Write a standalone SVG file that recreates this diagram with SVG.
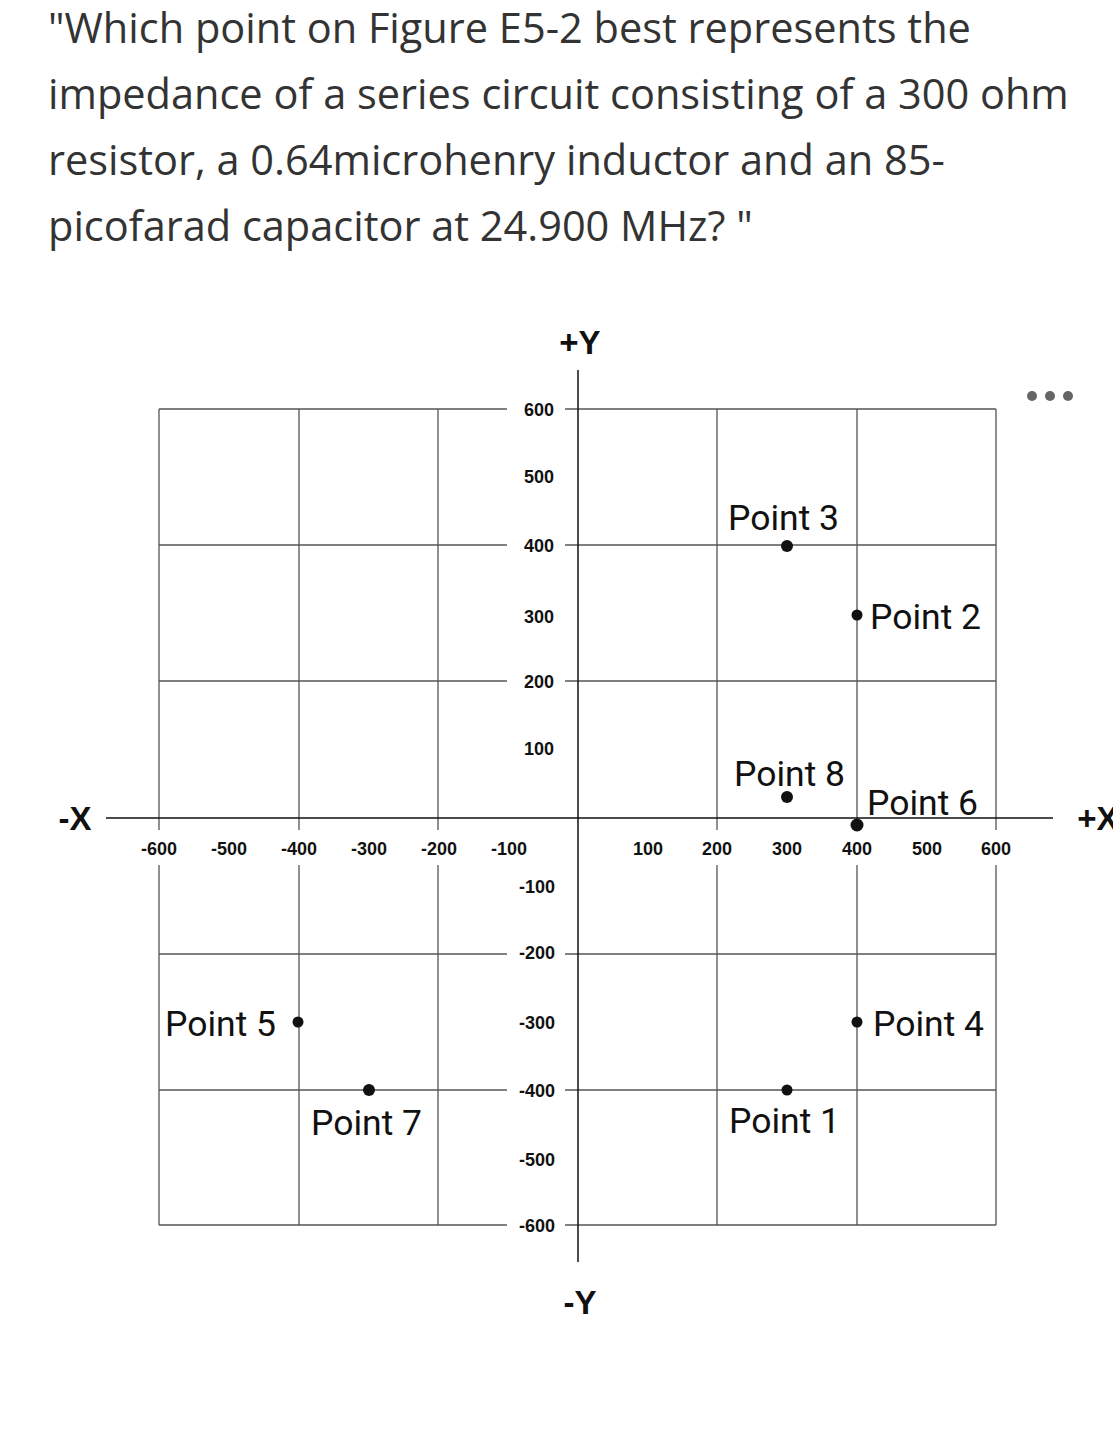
<svg xmlns="http://www.w3.org/2000/svg" width="1113" height="1444" viewBox="0 0 1113 1444">
<style>
.q{font-family:"Open Sans",sans-serif;font-size:41.5px;fill:#333}
.t{font-family:"Liberation Sans",Arial,sans-serif;font-size:18px;font-weight:bold;fill:#111;text-anchor:middle}
.ax{font-family:"Liberation Sans",Arial,sans-serif;font-size:33px;font-weight:bold;fill:#111;text-anchor:middle}
.p{font-family:"Roboto","Liberation Sans",sans-serif;font-size:35.5px;fill:#111}
.g{stroke:#555;stroke-width:1.3;fill:none}
.a{stroke:#111;stroke-width:1.5}
</style>
<rect width="1113" height="1444" fill="#fff"/>
<g id="question">
<text class="q" x="48" y="43">"Which point on Figure E5-2 best represents the</text>
<text class="q" x="48" y="109">impedance of a series circuit consisting of a 300 ohm</text>
<text class="q" x="48" y="175">resistor, a 0.64microhenry inductor and an 85-</text>
<text class="q" x="48" y="241">picofarad capacitor at 24.900 MHz? "</text>
</g>
<g id="menu" fill="#666"><circle cx="1032" cy="396" r="5"/><circle cx="1050" cy="396" r="5"/><circle cx="1068" cy="396" r="5"/></g>
<g id="grid" class="g">
<path d="M159 409H507M565 409H996M159 545H507M565 545H996M159 681H507M565 681H996M159 954H507M565 954H996M159 1090H507M565 1090H996M159 1225H507M565 1225H996"/>
<path d="M159 409V830M159 865V1225M299 409V830M299 865V1225M438 409V830M438 865V1225M717 409V830M717 865V1225M857 409V830M857 865V1225M996 409V830M996 865V1225"/>
</g>
<g id="axes" class="a">
<line x1="106" y1="818" x2="1053" y2="818"/>
<line x1="578" y1="370" x2="578" y2="1262"/>
</g>
<g id="labels">
<text class="ax" x="580" y="354">+Y</text>
<text class="ax" x="580" y="1314">-Y</text>
<text class="ax" x="75" y="830">-X</text>
<text class="ax" x="1098" y="830">+X</text>
<text class="t" x="539" y="416">600</text><text class="t" x="539" y="483">500</text><text class="t" x="539" y="552">400</text><text class="t" x="539" y="623">300</text><text class="t" x="539" y="688">200</text><text class="t" x="539" y="755">100</text>
<text class="t" x="537" y="893">-100</text><text class="t" x="537" y="959">-200</text><text class="t" x="537" y="1029">-300</text><text class="t" x="537" y="1097">-400</text><text class="t" x="537" y="1166">-500</text><text class="t" x="537" y="1232">-600</text>
<text class="t" x="159" y="855">-600</text><text class="t" x="229" y="855">-500</text><text class="t" x="299" y="855">-400</text><text class="t" x="369" y="855">-300</text><text class="t" x="439" y="855">-200</text><text class="t" x="509" y="855">-100</text>
<text class="t" x="648" y="855">100</text><text class="t" x="717" y="855">200</text><text class="t" x="787" y="855">300</text><text class="t" x="857" y="855">400</text><text class="t" x="927" y="855">500</text><text class="t" x="996" y="855">600</text>
</g>
<g id="points" fill="#111">
<circle cx="787" cy="546" r="6"/><text class="p" x="728" y="530">Point 3</text>
<circle cx="857" cy="615" r="5.5"/><text class="p" x="870" y="629">Point 2</text>
<circle cx="787" cy="797" r="6"/><text class="p" x="734" y="786">Point 8</text>
<circle cx="857" cy="825" r="6.5"/><text class="p" x="867" y="815">Point 6</text>
<circle cx="857" cy="1022" r="5.5"/><text class="p" x="873" y="1036">Point 4</text>
<circle cx="787" cy="1090" r="5.5"/><text class="p" x="729" y="1133">Point 1</text>
<circle cx="298" cy="1022" r="5.5"/><text class="p" x="165" y="1036">Point 5</text>
<circle cx="369" cy="1090" r="6"/><text class="p" x="311" y="1135">Point 7</text>
</g>
</svg>
